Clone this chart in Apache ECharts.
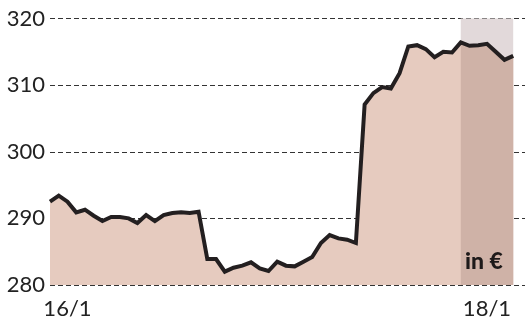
<!DOCTYPE html>
<html><head><meta charset="utf-8">
<script src="https://cdn.jsdelivr.net/npm/echarts@6/dist/echarts.min.js"></script>
<style>html,body{margin:0;padding:0;background:#fff}#c{width:526px;height:333px}</style>
</head><body><div id="c"></div>
<script>
// price values (EUR), evenly spaced observations
const values = [292.5,293.4,292.5,290.9,291.3,290.4,289.6,290.2,290.2,290.0,
  289.3,290.5,289.6,290.5,290.8,290.9,290.8,291.0,283.9,283.9,
  282.0,282.6,282.9,283.4,282.5,282.1,283.5,282.9,282.8,283.5,
  284.2,286.3,287.5,287.0,286.8,286.3,307.1,308.8,309.7,309.5,
  311.8,315.8,316.0,315.4,314.2,315.0,314.9,316.4,315.9,316.0,
  316.2,315.0,313.8,314.4];
const tickLabels = {2: '16/1', 50: '18/1'};
const yTicks = [280, 290, 300, 310, 320];
const bandStart = 47, bandEnd = 53;

const pts = values.map((v, i) => [i, v]);
const bandPts = pts.filter(p => p[0] >= bandStart && p[0] <= bandEnd);

const chart = echarts.init(document.getElementById('c'));
chart.setOption({
  animation: false,
  grid: {left: 50, right: 1, top: 18.5, bottom: 48},
  xAxis: {
    type: 'value', min: 0, max: 54.35, interval: 1,
    axisLine: {show: false}, axisTick: {show: false}, splitLine: {show: false},
    axisLabel: {
      showMinLabel: true, showMaxLabel: false, margin: 13,
      fontFamily: 'Lato', fontSize: 22, color: '#222',
      formatter: v => tickLabels[v] || ''
    }
  },
  yAxis: {
    type: 'value', min: yTicks[0], max: yTicks[yTicks.length - 1], interval: 10,
    axisLine: {show: false}, axisTick: {show: false},
    splitLine: {lineStyle: {type: [5, 3], color: '#333', width: 1}},
    axisLabel: {margin: 5, fontFamily: 'Lato', fontSize: 22, color: '#222'}
  },
  series: [
    {
      type: 'line', data: pts, symbol: 'none', z: 2,
      lineStyle: {width: 0},
      areaStyle: {color: '#e6cbbf', opacity: 1},
      markArea: {
        silent: true, z: 1,
        itemStyle: {color: '#e2d9da'},
        data: [[{xAxis: bandStart, yAxis: 280}, {xAxis: bandEnd, yAxis: 320}]]
      }
    },
    {
      type: 'line', data: bandPts, symbol: 'none', z: 3,
      lineStyle: {width: 0},
      areaStyle: {color: '#cfb2a7', opacity: 1}
    },
    {
      type: 'line', data: pts, symbol: 'none', z: 4,
      lineStyle: {width: 4, color: '#231f20', join: 'miter'}
    }
  ],
  graphic: [{
    type: 'text', left: 465, top: 250, z: 10,
    style: {text: 'in €', font: '900 23px Lato', fill: '#1e1a1a'}
  }]
});
</script></body></html>
